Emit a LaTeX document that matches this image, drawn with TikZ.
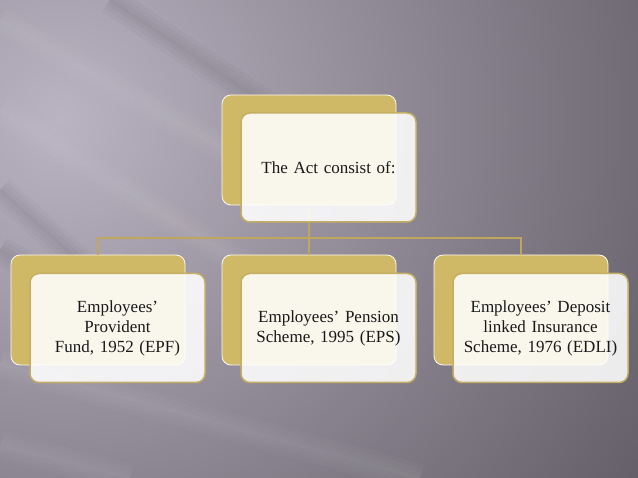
\documentclass[tikz,border=0pt]{standalone}
\usepackage{fontspec}
\setmainfont{Liberation Serif}
\usetikzlibrary{positioning}

\definecolor{goldF}{RGB}{208,185,102}
\definecolor{goldD}{RGB}{196,174,100}
\definecolor{goldL}{RGB}{190,166,92}
\definecolor{bgL}{RGB}{186,179,194}
\definecolor{bgD}{RGB}{95,90,99}

\tikzstyle{gS}=[draw=white!92!goldF, line width=0.8pt, fill=goldF, rounded corners=9pt, minimum width=174pt, minimum height=110pt, inner sep=0pt]
\tikzstyle{wS}=[draw=goldD, line width=1.5pt, fill=white, fill opacity=0.88, text opacity=1, rounded corners=9pt, minimum width=175pt, minimum height=109pt, inner sep=0pt, font=\fontsize{17}{20}\selectfont, align=center, text width=165pt, text=black!90]
\tikzstyle{eS}=[draw=goldL, line width=1.4pt]

\begin{document}
\begin{tikzpicture}[x=1pt,y=-1pt]
                \useasboundingbox (0,0) rectangle (638,478);
                % background
                \begin{scope}
                    \clip (0,0) rectangle (638,478);
                    \fill[bgD] (0,0) rectangle (638,478);
                    \shade[inner color=bgL, outer color=bgD] (60,120) circle (720);
                    % soft streaks
                    \foreach \xa/\ya/\xb/\yb in {0/364/420/478, 0/110/330/320, 0/445/130/478, 0/20/260/170}
                        \foreach \w in {4,12,20,28}
                            \draw[white, line width=\w pt, opacity=0.022] (\xa,\ya) -- (\xb,\yb);
                    \foreach \xa/\ya/\xb/\yb in {110/0/320/140, 0/250/180/355, 0/190/100/280}
                        \foreach \w in {4,12,20,28}
                            \draw[black, line width=\w pt, opacity=0.02] (\xa,\ya) -- (\xb,\yb);
                \end{scope}
                % back boxes
                \draw (309,150) node[gS] (tG) {};
                \draw (98,310) node[gS] (lG) {};
                \draw (309,310) node[gS] (mG) {};
                \draw (521,310) node[gS] (rG) {};
                % connectors
                \coordinate (bar) at (309,238);
                \draw[eS] (tG.south) -- (bar);
                \draw[eS] (bar) -| (lG.north);
                \draw[eS] (bar) -- (mG.north);
                \draw[eS] (bar) -| (rG.north);
                % front boxes
                \draw ([shift={(19.5,17.5)}]tG.center) node[wS] (tW) {The Act consist of:};
                \draw ([shift={(19.5,18)}]lG.center) node[wS] (lW) {Employees'\\Provident\\Fund, 1952 (EPF)};
                \draw ([shift={(19.5,18)}]mG.center) node[wS] (mW) {Employees' Pension\\Scheme, 1995 (EPS)};
                \draw ([shift={(19.5,18)}]rG.center) node[wS] (rW) {Employees' Deposit\\linked Insurance\\Scheme, 1976 (EDLI)};
        \end{tikzpicture}
\end{document}
